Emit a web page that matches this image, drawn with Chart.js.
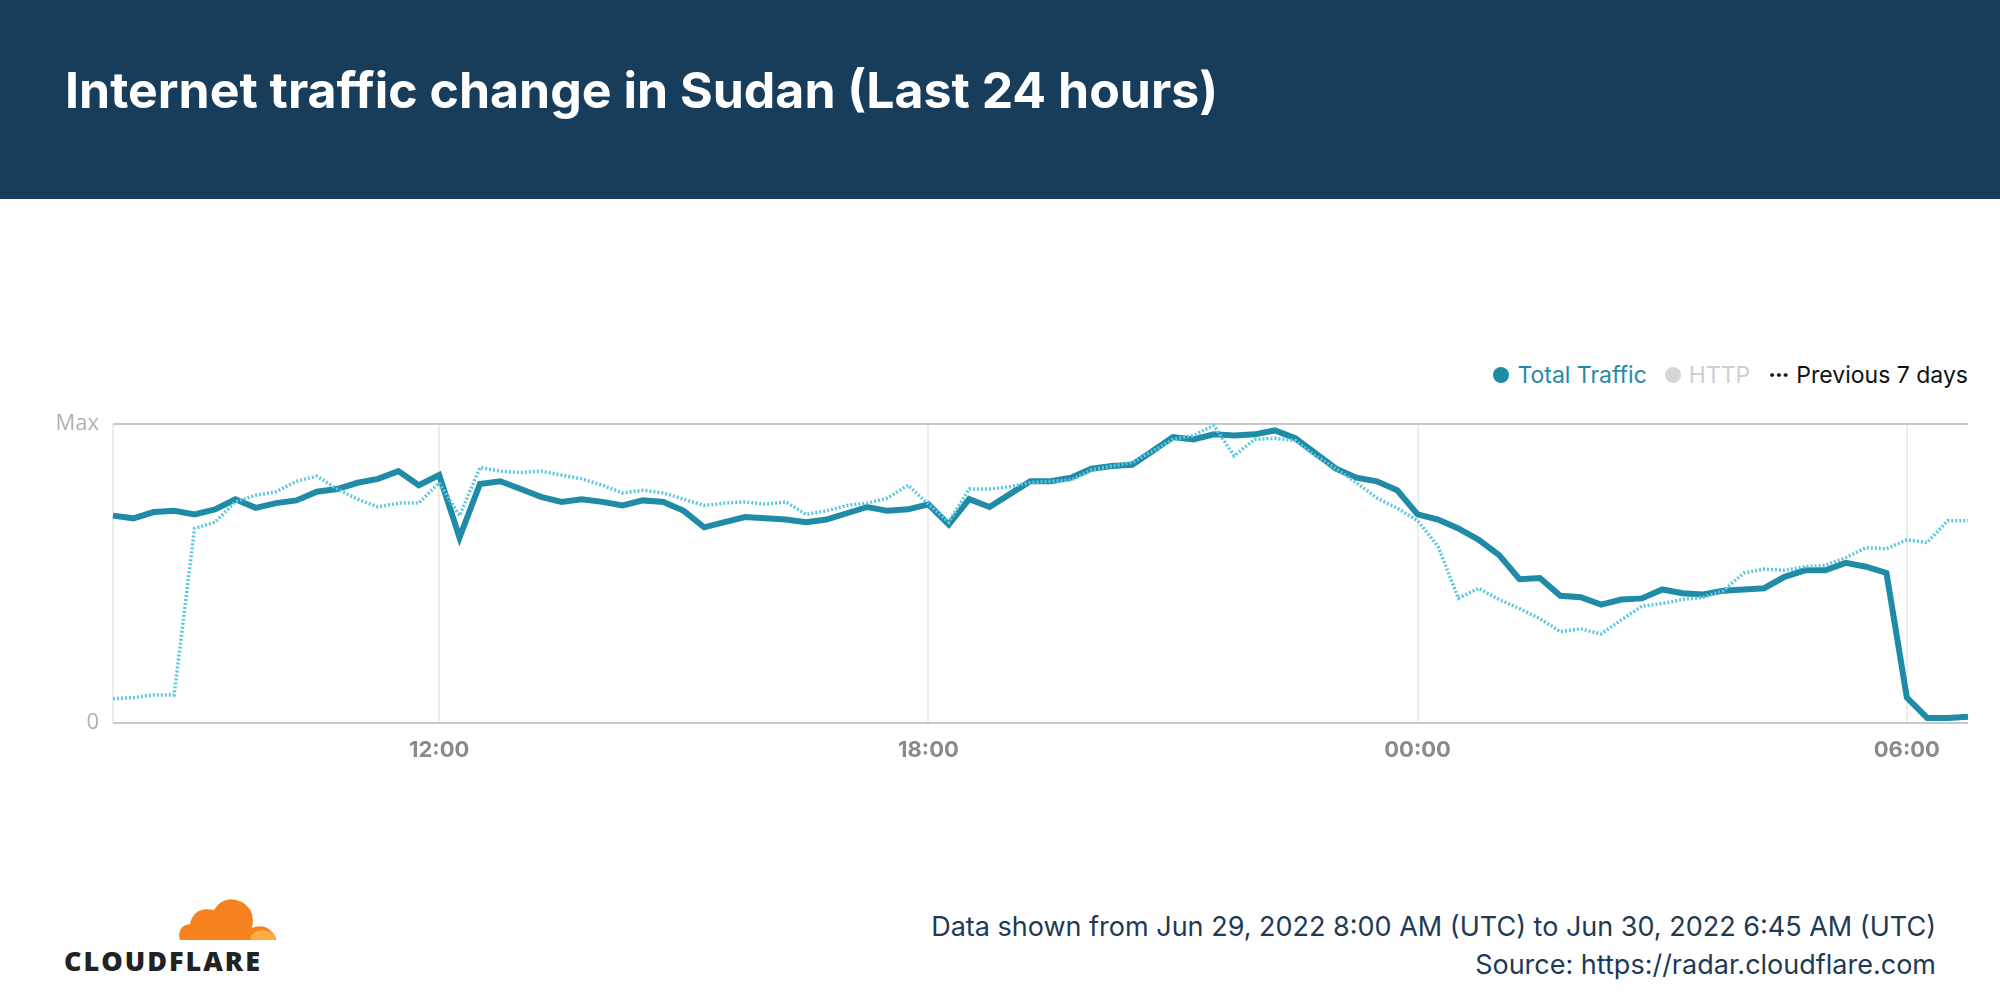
<!DOCTYPE html>
<html>
<head>
<meta charset="utf-8">
<script src="https://cdn.jsdelivr.net/npm/chart.js@4"></script>
<style>
  body { margin: 0; width: 2000px; height: 1000px; background: #fff; font-family: Inter, "Open Sans", sans-serif; position: relative; overflow: hidden; }
  .header { position: absolute; left: 0; top: 0; width: 2000px; height: 199px; background: #183d5a; }
  .header h1 { position: absolute; left: 65px; top: 60px; margin: 0; color: #fff; font-size: 50px; font-weight: 700; }
  .legend { position: absolute; right: 32px; top: 361px; font-size: 23px; display: flex; gap: 18px; align-items: center; }
  .legend span { display: inline-flex; align-items: center; }
  .dot { width: 16px; height: 16px; border-radius: 50%; display: inline-block; margin-right: 8px; }
  #wrap { position: absolute; left: 40px; top: 397px; width: 1942px; height: 386px; }
  .footer { position: absolute; right: 64px; top: 908px; text-align: right; color: #1e3a56; font-size: 27px; line-height: 38px; }
  .logo { position: absolute; left: 64px; top: 892px; width: 212px; }
  .logo .word { position: absolute; top: 50px; left: 0; font-weight: 800; font-size: 27px; letter-spacing: 2px; color: #222; font-family: "Open Sans", sans-serif; }
</style>
</head>
<body>
<div class="header"><h1>Internet traffic change in Sudan (Last 24 hours)</h1></div>
<div class="legend">
  <span style="color:#1f8ba6"><i class="dot" style="background:#1f8ba6"></i>Total Traffic</span>
  <span style="color:#cfcfcf"><i class="dot" style="background:#d6d6d6"></i>HTTP</span>
  <span style="color:#111"><b style="margin-right:8px;letter-spacing:-1px">···</b>Previous 7 days</span>
</div>
<div id="wrap"><canvas id="chart"></canvas></div>
<div class="logo">
  <svg width="110" height="52" viewBox="0 0 110 52" style="position:absolute;left:108px;top:0">
    <path d="M8 48 Q4 34 18 32 Q22 14 42 18 Q52 2 70 10 Q84 18 80 36 Q96 30 104 46 L104 48 Z" fill="#f6821f"/>
    <path d="M78 48 Q80 38 92 38 Q102 40 104 48 Z" fill="#fbad41"/>
  </svg>
  <div class="word">CLOUDFLARE</div>
</div>
<div class="footer">Data shown from Jun 29, 2022 8:00 AM (UTC) to Jun 30, 2022 6:45 AM (UTC)<br>Source: https://radar.cloudflare.com</div>
<script>
// 15-minute slots, Jun 29 08:00 -> Jun 30 06:45
const times = [];
for (let i = 0; i < 92; i++) {
  const m = (8 * 60 + i * 15) % 1440;
  times.push(String(Math.floor(m / 60)).padStart(2, '0') + ':' + String(m % 60).padStart(2, '0'));
}
const tickLabels = ['12:00', '18:00', '00:00', '06:00'];

const totalTraffic = [
  69.4, 68.5, 70.6, 71, 69.8, 71.5, 74.9, 72, 73.6, 74.5, 77.4, 78.3, 80.4, 81.7, 84.3, 79.6,
  83, 62.1, 80, 80.9, 78.3, 75.7, 74, 74.9, 74, 72.8, 74.5, 74, 71, 65.5, 67.2, 68.9,
  68.5, 68.1, 67.2, 68.1, 70.2, 72.3, 71, 71.5, 73.2, 66.4, 74.9, 72.3, 76.6, 80.9, 80.9, 82.1,
  85.1, 86, 86.4, 91, 95.7, 94.9, 96.6, 96.2, 96.6, 97.9, 95.3, 90.2, 85.1, 82.1, 80.9, 77.9,
  69.8, 68.1, 65.1, 61.3, 56.2, 48.1, 48.5, 42.6, 42.1, 39.6, 41.3, 41.7, 44.7, 43.4, 43, 44.3,
  44.7, 45.1, 48.9, 51.1, 51.1, 53.6, 52.3, 50.2, 8.5, 1.7, 1.7, 2.1
];
const previous7Days = [
  8.1, 8.5, 9.4, 9.4, 65.1, 67.2, 74, 76.2, 77.4, 80.9, 82.6, 78.3, 74.9, 72.3, 73.6, 73.6,
  80.4, 69.4, 85.5, 84.3, 83.8, 84.3, 83, 81.7, 79.6, 77, 77.9, 77, 74.9, 72.8, 73.6, 74,
  73.2, 74, 69.8, 71, 72.8, 73.6, 75.3, 79.6, 73.2, 67.2, 78.3, 78.3, 79.1, 80.4, 80.9, 81.3,
  84.7, 86, 87.2, 91, 94.9, 96.2, 99.6, 89.4, 94.9, 95.3, 94.5, 89.4, 85.1, 80.4, 75.3, 71.9,
  67.7, 59.1, 41.7, 45.1, 41.3, 38.3, 34.9, 30.6, 31.5, 29.8, 34.5, 39.1, 40, 41.3, 42.1, 44.3,
  50.2, 51.5, 51.1, 52.3, 52.8, 55.3, 58.7, 58.3, 61.3, 60.4, 67.7, 67.7
];

new Chart(document.getElementById('chart'), {
  type: 'line',
  data: {
    labels: times,
    datasets: [
      { label: 'Previous 7 days', data: previous7Days, borderColor: '#5cc8e0', borderWidth: 3.5,
        borderDash: [2, 2], pointRadius: 0, tension: 0 },
      { label: 'Total Traffic', data: totalTraffic, borderColor: '#1f8ba6', borderWidth: 6,
        pointRadius: 0, tension: 0, borderJoinStyle: 'miter' }
    ]
  },
  options: {
    responsive: true, maintainAspectRatio: false, animation: false,
    layout: { padding: { top: 10, right: 0 } },
    plugins: { legend: { display: false }, tooltip: { enabled: false } },
    scales: {
      x: {
        offset: false,
        border: { display: false },
        afterFit: s => { s.height = 60; },
        grid: {
          drawTicks: false,
          color: ctx => (ctx.index === 0 || tickLabels.includes(times[ctx.index])) ? '#ececec' : 'rgba(0,0,0,0)',
          lineWidth: 2
        },
        ticks: {
          autoSkip: false, maxRotation: 0, padding: 14, color: '#8a8a8a',
          font: { family: 'Inter', size: 22, weight: '700' },
          callback: (v, i) => tickLabels.includes(times[i]) ? times[i] : ''
        }
      },
      y: {
        min: 0, max: 100,
        afterFit: s => { s.width = 73; },
        border: { display: false },
        grid: { drawTicks: false, color: ctx => ctx.tick.value === 0 || ctx.tick.value === 100 ? '#c8c8c8' : 'rgba(0,0,0,0)', lineWidth: 2 },
        ticks: {
          stepSize: 100, padding: 14, color: '#b0b0b0',
          font: { family: 'Open Sans', size: 22 },
          callback: v => v === 100 ? 'Max' : (v === 0 ? '0' : '')
        }
      }
    }
  }
});
</script>
</body>
</html>
